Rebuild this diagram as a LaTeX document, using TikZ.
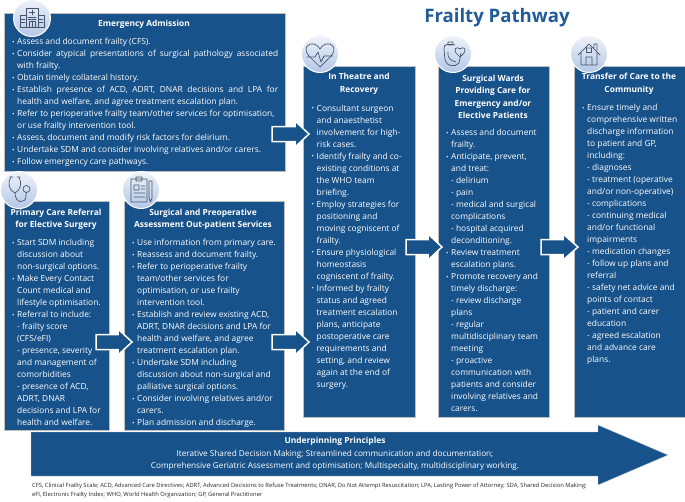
\documentclass[tikz,border=0pt]{standalone}
\usepackage{fontspec}
\setmainfont{Open Sans}
\usetikzlibrary{calc}
\definecolor{boxblue}{HTML}{17528A}
\definecolor{titleblue}{HTML}{1F5C99}
\definecolor{iconline}{HTML}{44546A}
\definecolor{disctop}{HTML}{EEF2F9}
\definecolor{discbot}{HTML}{B4C7E7}
\newcommand{\bl}{\makebox[5pt][l]{\raisebox{0.3pt}{\fontsize{6.5}{6}\selectfont •}}}
\newcommand{\ii}{\hspace*{5pt}}
\newcommand{\jl}[1]{\makebox[261pt][s]{#1}}
\newcommand{\iconbg}[2]{\draw[iconbg] (#1,#2) circle (18.5);}
\newcommand{\barrow}[4]{\draw[flowarrow] (#1,#4-7.5) -- (#2,#4-7.5) -- (#2,#4-13) -- (#3,#4) -- (#2,#4+13) -- (#2,#4+7.5) -- (#1,#4+7.5) -- cycle;}
\tikzset{
  panel/.style={fill=boxblue,draw=black!25,line width=0.4pt},
  head/.style={text=white,font=\fontsize{8.4}{12.5}\selectfont\bfseries,align=center,anchor=center,inner sep=0pt},
  body/.style={text=white,font=\fontsize{8.4}{12}\selectfont,align=left,anchor=north west,inner sep=0pt},
  flowarrow/.style={fill=boxblue,draw=white,line width=1.5pt,miter limit=8},
  iconbg/.style={draw=white,line width=1pt,top color=disctop,bottom color=discbot},
  ic/.style={draw=iconline,line width=0.7pt,line join=round,line cap=round,fill=none},
}
\begin{document}
\begin{tikzpicture}[x=1pt,y=-1pt]
\useasboundingbox (0,0) rectangle (685,501);
\fill[white] (0,0) rectangle (685,501);
% title
\node[text=titleblue,font=\fontsize{18.6}{24}\selectfont\bfseries,inner sep=0pt] (title) at (497,18) {Frailty Pathway};
% panels
\draw[panel] (4,13.5) rectangle (285,171);
\draw[panel] (4,201) rectangle (109,430);
\draw[panel] (124,201) rectangle (284,430);
\draw[panel] (303,66) rectangle (415,417);
\draw[panel] (438,66) rectangle (549,417);
\draw[panel] (574,66) rectangle (685,417);
% underpinning arrow
\draw[panel,draw=black!20] (31,432) -- (598,432) -- (598,425) -- (668,455) -- (598,485) -- (598,476) -- (31,476) -- cycle;
% block arrows
\barrow{272}{295}{309}{134}
\barrow{96}{118}{132}{342}
\barrow{272}{295}{309}{342}
\barrow{406}{428}{442}{247}
\barrow{541}{563}{578}{247}
% icon discs
\iconbg{32}{18}\iconbg{19}{190}\iconbg{141}{190}\iconbg{320}{54}\iconbg{453}{54}\iconbg{589}{54}
% building
\draw[ic] (26,8) rectangle (38,27) (20,15) rectangle (26,27) (38,15) rectangle (44,27) (29,21) rectangle (35,27) (32,10) -- (32,15) (29.5,12.5) -- (34.5,12.5) (28,17) -- (36,17) (28,19.5) -- (36,19.5) (21,19) -- (25,19) (21,22) -- (25,22) (39,19) -- (43,19) (39,22) -- (43,22) (32,21) -- (32,27);
% stethoscope
\draw[ic] (11,177) .. controls (7,184) and (9,190) .. (15,193) .. controls (21,190) and (22,183) .. (19,177) (15,193) .. controls (15,204) and (26,204) .. (26,196) (26,192) -- (26,196);
\draw[ic] (26.5,189) circle (3.5) (10,177) -- (13,177) (17,177) -- (20,177);
% clipboard
\draw[ic] (131,179) rectangle (147,202) (136,177) rectangle (142,181) (134,185) rectangle (139,190) (141,186) -- (145,186) (141,189) -- (145,189) (134,193) -- (145,193) (134,197) -- (145,197) (149,181) -- (149,198) -- (150.5,202) -- (152,198) -- (152,181) -- cycle;
% heart
\draw[ic] (320,67) -- (309,56) .. controls (302,48) and (309,42) .. (314,44) .. controls (317,45) and (319,47) .. (320,49) .. controls (321,47) and (323,45) .. (326,44) .. controls (331,42) and (338,48) .. (331,56) -- cycle;
\draw[ic] (307,57) -- (315,57) -- (318,52) -- (321,62) -- (324,56) -- (333,56);
% patient
\draw[ic] (444,49) .. controls (443,43) and (450,44) .. (455,45) (444,49) -- (445,60) .. controls (446,66) and (455,68) .. (459,63) -- (461,53) (448,42) rectangle (453,45) (448,52) .. controls (447,58) and (451,61) .. (456,62);
\draw[ic] (460,57) -- (456,53) .. controls (453,49) and (457,46) .. (460,49) .. controls (463,46) and (467,49) .. (464,53) -- cycle;
% house
\draw[ic] (578,55) -- (589,44) -- (600,55) (581,53) -- (581,65) -- (597,65) -- (597,53) (586,65) -- (586,57) -- (592,57) -- (592,65) (586.5,48) rectangle (591.5,52.5) (594,44) -- (594,47.5) (594,44) -- (597,44) -- (597,50);
% heads
\node[head] (h1) at (144,24.5) {Emergency Admission};
\node[head] (h2) at (56,219.5) {Primary Care Referral\\for Elective Surgery};
\node[head] (h3) at (203,219.5) {Surgical and Preoperative\\Assessment Out-patient Services};
\node[head] (h4) at (359,84) {In Theatre and\\Recovery};
\node[head] (h5) at (493,97) {Surgical Wards\\Providing Care for\\Emergency and/or\\Elective Patients};
\node[head] (h6) at (629,84) {Transfer of Care to the\\Community};
% bodies
\node[body] (t1) at (12,38) {\bl Assess and document frailty (CFS).\\
\bl\jl{Consider atypical presentations of surgical pathology associated}\\
\ii with frailty.\\
\bl Obtain timely collateral history.\\
\bl\jl{Establish presence of ACD, ADRT, DNAR decisions and LPA for}\\
\ii health and welfare, and agree treatment escalation plan.\\
\bl Refer to perioperative frailty team/other services for optimisation,\\
\ii or use frailty intervention tool.\\
\bl Assess, document and modify risk factors for delirium.\\
\bl Undertake SDM and consider involving relatives and/or carers.\\
\bl Follow emergency care pathways.};
\node[body] (t2) at (12,239) {\bl Start SDM including\\
\ii discussion about\\
\ii non-surgical options.\\
\bl Make Every Contact\\
\ii Count medical and\\
\ii lifestyle optimisation.\\
\bl Referral to include:\\
\ii - frailty score\\
\ii (CFS/eFI)\\
\ii - presence, severity\\
\ii and management of\\
\ii comorbidities\\
\ii - presence of ACD,\\
\ii ADRT, DNAR\\
\ii decisions and LPA for\\
\ii health and welfare.};
\node[body] (t3) at (132,239) {\bl Use information from primary care.\\
\bl Reassess and document frailty.\\
\bl Refer to perioperative frailty\\
\ii team/other services for\\
\ii optimisation, or use frailty\\
\ii intervention tool.\\
\bl Establish and review existing ACD,\\
\ii ADRT, DNAR decisions and LPA for\\
\ii health and welfare, and agree\\
\ii treatment escalation plan.\\
\bl Undertake SDM including\\
\ii discussion about non-surgical and\\
\ii palliative surgical options.\\
\bl Consider involving relatives and/or\\
\ii carers.\\
\bl Plan admission and discharge.};
\node[body] (t4) at (311.5,104.5) {\bl Consultant surgeon\\
\ii and anaesthetist\\
\ii involvement for high-\\
\ii risk cases.\\
\bl Identify frailty and co-\\
\ii existing conditions at\\
\ii the WHO team\\
\ii briefing.\\
\bl Employ strategies for\\
\ii positioning and\\
\ii moving cogniscent of\\
\ii frailty.\\
\bl Ensure physiological\\
\ii homeostasis\\
\ii cogniscent of frailty.\\
\bl Informed by frailty\\
\ii status and agreed\\
\ii treatment escalation\\
\ii plans, anticipate\\
\ii postoperative care\\
\ii requirements and\\
\ii setting, and review\\
\ii again at the end of\\
\ii surgery.};
\node[body] (t5) at (446,129) {\bl Assess and document\\
\ii frailty.\\
\bl Anticipate, prevent,\\
\ii and treat:\\
\ii - delirium\\
\ii - pain\\
\ii - medical and surgical\\
\ii complications\\
\ii - hospital acquired\\
\ii deconditioning.\\
\bl Review treatment\\
\ii escalation plans.\\
\bl Promote recovery and\\
\ii timely discharge:\\
\ii - review discharge\\
\ii plans\\
\ii - regular\\
\ii multidisciplinary team\\
\ii meeting\\
\ii - proactive\\
\ii communication with\\
\ii patients and consider\\
\ii involving relatives and\\
\ii carers.};
\node[body] (t6) at (582,104) {\bl Ensure timely and\\
\ii comprehensive written\\
\ii discharge information\\
\ii to patient and GP,\\
\ii including:\\
\ii - diagnoses\\
\ii - treatment (operative\\
\ii and/or non-operative)\\
\ii - complications\\
\ii - continuing medical\\
\ii and/or functional\\
\ii impairments\\
\ii - medication changes\\
\ii - follow up plans and\\
\ii referral\\
\ii - safety net advice and\\
\ii points of contact\\
\ii - patient and carer\\
\ii education\\
\ii - agreed escalation\\
\ii and advance care\\
\ii plans.};
% underpinning text
\node[head] (u1) at (335,441.5) {Underpinning Principles};
\node[text=white,font=\fontsize{8.2}{11.5}\selectfont,align=center,inner sep=0pt] (u2) at (335,460.5) {Iterative Shared Decision Making; Streamlined communication and documentation;\\Comprehensive Geriatric Assessment and optimisation; Multispecialty, multidisciplinary working.};
% footnote
\node[text=black!85,font=\fontsize{5.8}{9}\selectfont,align=left,anchor=north west,inner sep=0pt] (fn) at (32,482.5) {CFS, Clinical Frailty Scale; ACD, Advanced Care Directives; ADRT, Advanced Decisions to Refuse Treatments; DNAR, Do Not Attempt Resuscitation; LPA, Lasting Power of Attorney; SDA, Shared Decision Making;\\eFI, Electronic Frailty Index; WHO, World Health Organization; GP, General Practitioner};
\end{tikzpicture}
\end{document}
